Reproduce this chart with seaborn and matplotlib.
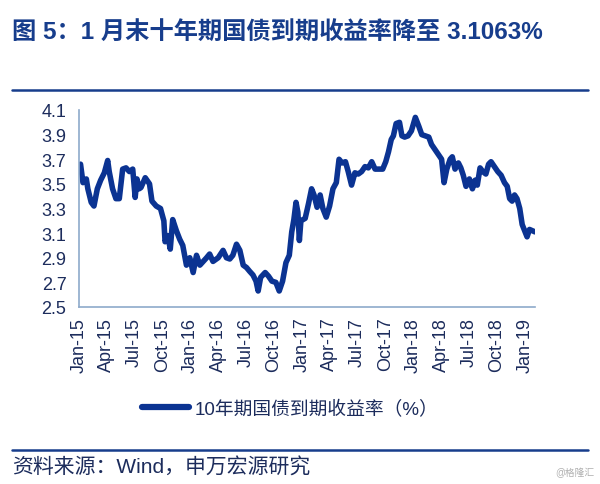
import matplotlib
matplotlib.use("Agg")

import matplotlib.dates as mdates
import matplotlib.pyplot as plt
import pandas as pd
import seaborn as sns
from matplotlib.lines import Line2D

# ── Data ──────────────────────────────────────────────────────────────

dates = [
    "2015-01-06", "2015-01-14", "2015-01-25", "2015-01-30", "2015-02-10", "2015-02-19",
    "2015-03-02", "2015-03-13", "2015-03-25", "2015-04-05", "2015-04-10", "2015-04-21",
    "2015-05-02", "2015-05-13", "2015-05-24", "2015-06-04", "2015-06-15", "2015-06-26",
    "2015-07-04", "2015-07-10", "2015-07-17", "2015-07-23", "2015-08-06", "2015-08-20",
    "2015-08-28", "2015-09-11", "2015-09-25", "2015-10-06", "2015-10-10", "2015-10-19",
    "2015-10-27", "2015-11-04", "2015-11-16", "2015-11-27", "2015-12-07", "2015-12-19",
    "2015-12-30", "2016-01-10", "2016-01-21", "2016-02-01", "2016-02-12", "2016-02-23",
    "2016-03-04", "2016-03-15", "2016-04-01", "2016-04-17", "2016-04-28", "2016-05-09",
    "2016-05-19", "2016-05-31", "2016-06-11", "2016-06-22", "2016-07-03", "2016-07-13",
    "2016-07-24", "2016-08-03", "2016-08-10", "2016-08-18", "2016-09-02", "2016-09-13",
    "2016-09-24", "2016-10-07", "2016-10-18", "2016-10-29", "2016-11-09", "2016-11-20",
    "2016-11-28", "2016-12-05", "2016-12-12", "2016-12-18", "2016-12-23", "2016-12-28",
    "2017-01-11", "2017-01-22", "2017-02-01", "2017-02-09", "2017-02-19", "2017-03-01",
    "2017-03-10", "2017-03-21", "2017-04-01", "2017-04-12", "2017-04-23", "2017-05-02",
    "2017-05-12", "2017-05-23", "2017-06-01", "2017-06-12", "2017-06-23", "2017-07-04",
    "2017-07-15", "2017-07-26", "2017-08-06", "2017-08-17", "2017-08-28", "2017-09-08",
    "2017-09-22", "2017-10-02", "2017-10-11", "2017-10-20", "2017-10-27", "2017-11-05",
    "2017-11-16", "2017-11-24", "2017-12-03", "2017-12-14", "2017-12-25", "2018-01-07",
    "2018-01-18", "2018-01-28", "2018-02-20", "2018-03-01", "2018-03-12", "2018-03-23",
    "2018-04-03", "2018-04-11", "2018-04-20", "2018-05-01", "2018-05-08", "2018-05-17",
    "2018-05-28", "2018-06-05", "2018-06-13", "2018-06-22", "2018-07-03", "2018-07-13",
    "2018-07-22", "2018-07-29", "2018-08-07", "2018-08-16", "2018-08-26", "2018-09-04",
    "2018-09-12", "2018-09-23", "2018-10-04", "2018-10-15", "2018-10-26", "2018-11-04",
    "2018-11-12", "2018-11-20", "2018-11-28", "2018-12-06", "2018-12-15", "2018-12-23",
    "2018-12-31", "2019-01-08", "2019-01-16", "2019-01-25", "2019-02-03",
]

yields = [
    3.66, 3.51, 3.54, 3.46, 3.35, 3.32,
    3.46, 3.53, 3.59, 3.69, 3.60, 3.46,
    3.38, 3.38, 3.62, 3.63, 3.60, 3.62,
    3.39, 3.54, 3.46, 3.47, 3.55, 3.50,
    3.36, 3.32, 3.30, 3.20, 3.03, 3.08,
    2.97, 3.21, 3.12, 3.05, 3.00, 2.84,
    2.90, 2.78, 2.92, 2.84, 2.87, 2.90,
    2.93, 2.87, 2.90, 2.96, 2.90, 2.89,
    2.92, 3.01, 2.96, 2.84, 2.82, 2.79,
    2.76, 2.71, 2.63, 2.74, 2.78, 2.75,
    2.71, 2.70, 2.63, 2.71, 2.86, 2.92,
    3.11, 3.21, 3.35, 3.27, 3.04, 3.20,
    3.22, 3.34, 3.46, 3.41, 3.31, 3.41,
    3.30, 3.23, 3.32, 3.46, 3.51, 3.70,
    3.67, 3.68, 3.60, 3.49, 3.59, 3.58,
    3.60, 3.64, 3.63, 3.68, 3.62, 3.62,
    3.62, 3.68, 3.76, 3.86, 3.89, 3.99,
    4.00, 3.89, 3.88, 3.89, 3.93, 4.04,
    3.97, 3.90, 3.88, 3.82, 3.78, 3.74,
    3.70, 3.51, 3.62, 3.70, 3.72, 3.62,
    3.67, 3.63, 3.57, 3.48, 3.54, 3.46,
    3.53, 3.49, 3.63, 3.60, 3.58, 3.66,
    3.68, 3.64, 3.60, 3.57, 3.51, 3.48,
    3.38, 3.36, 3.41, 3.38, 3.30, 3.17,
    3.12, 3.07, 3.13, 3.12, 3.11,
]

series_name = "10年期国债到期收益率（%）"
title = "图 5：1 月末十年期国债到期收益率降至 3.1063%"
source = "资料来源：Wind，申万宏源研究"

LINE_BLUE = "#0b3392"
TITLE_BLUE = "#173d8c"
TEXT_NAVY = "#1c2c5c"
AXIS_BLUE = "#8eaacb"

sns.set_theme(style="white")
plt.rcParams["font.family"] = ["Liberation Sans", "Noto Sans CJK SC", "DejaVu Sans"]

df = pd.DataFrame({"date": pd.to_datetime(dates), "yield": yields, "series": series_name})

fig = plt.figure(figsize=(6, 4.85), dpi=100)
ax = fig.add_axes([79 / 600, 1 - 308 / 485, (535 - 79) / 600, (308 - 111) / 485])

sns.lineplot(data=df, x="date", y="yield", hue="series", palette=[LINE_BLUE],
             linewidth=4, ax=ax, legend=True)

ax.set_ylim(2.5, 4.1)
ax.set_yticks([2.5, 2.7, 2.9, 3.1, 3.3, 3.5, 3.7, 3.9, 4.1])
ax.set_yticklabels(["2.5", "2.7", "2.9", "3.1", "3.3", "3.5", "3.7", "3.9", "4.1"])
ax.set_xlim(pd.Timestamp("2015-01-01"), pd.Timestamp("2019-02-03"))
ax.xaxis.set_major_locator(mdates.MonthLocator(bymonth=[1, 4, 7, 10]))
ax.xaxis.set_major_formatter(mdates.DateFormatter("%b-%y"))
ax.set_xlabel("")
ax.set_ylabel("")

for side in ["top", "right"]:
    ax.spines[side].set_visible(False)
for side in ["left", "bottom"]:
    ax.spines[side].set_color(AXIS_BLUE)
    ax.spines[side].set_linewidth(1.2)

ax.tick_params(axis="both", which="major", direction="out", length=4, width=1.2,
               color=AXIS_BLUE, labelcolor=TEXT_NAVY, labelsize=13)
ax.tick_params(axis="x", labelrotation=90, pad=3)
ax.tick_params(axis="y", pad=5)

leg = ax.legend(loc="center", bbox_to_anchor=(290 / 600, 1 - 410 / 485),
                bbox_transform=fig.transFigure, frameon=False, fontsize=13.5,
                handlelength=2.5, handletextpad=0.3, labelcolor=TEXT_NAVY)
for h in leg.get_lines():
    h.set_linewidth(4.5)

fig.text(12 / 600, 1 - 32 / 485, title, fontsize=17.5, fontweight="bold",
         color=TITLE_BLUE, ha="left", va="center")
fig.add_artist(Line2D([12 / 600, 588 / 600], [1 - 91 / 485, 1 - 91 / 485],
                      color=TITLE_BLUE, linewidth=1.8, transform=fig.transFigure))
fig.add_artist(Line2D([12 / 600, 588 / 600], [1 - 451 / 485, 1 - 451 / 485],
                      color=TITLE_BLUE, linewidth=1.8, transform=fig.transFigure))
fig.text(12 / 600, 1 - 467 / 485, source, fontsize=15, color=TEXT_NAVY,
         ha="left", va="center")
fig.text(594 / 600, 1 - 473 / 485, "@格隆汇", fontsize=7, color="#b0b0b0",
         ha="right", va="center")

fig.savefig("out.png", dpi=100)
